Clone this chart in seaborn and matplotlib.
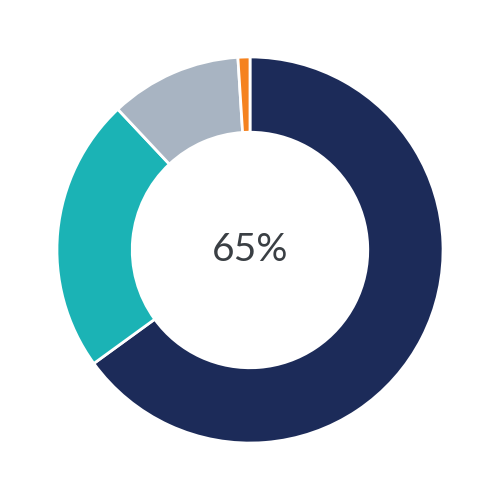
import matplotlib
matplotlib.use("Agg")
import matplotlib.pyplot as plt
import seaborn as sns

sns.set_theme(style="white")
plt.rcParams['font.family'] = ['Lato', 'DejaVu Sans']

labels = ["A", "B", "C", "D"]
values = [65, 23, 11, 1]
colors = ["#1c2b59", "#1bb3b5", "#a8b4c2", "#f5821f"]
center_label = "65%"

fig = plt.figure(figsize=(5, 5), dpi=100)
ax = fig.add_axes([0, 0, 1, 1])
ax.pie(values, colors=colors, startangle=90, counterclock=False, radius=1,
       wedgeprops=dict(width=0.39, edgecolor="white", linewidth=2))
ax.text(0, 0, center_label, ha="center", va="center", fontsize=28, color="#3a3f44")
ax.set_xlim(-1.295, 1.295)
ax.set_ylim(-1.295, 1.295)
ax.set_aspect("equal")
ax.axis("off")
fig.savefig("out.png", dpi=100, facecolor="white")
